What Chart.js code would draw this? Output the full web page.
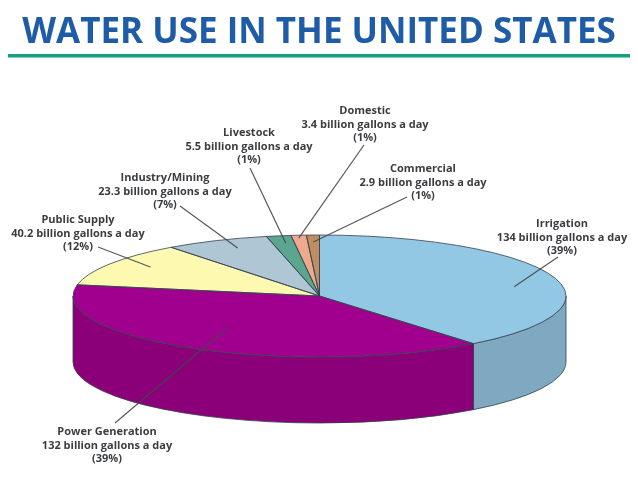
<!DOCTYPE html>
<html>
<head>
<meta charset="utf-8">
<title>Water use in the United States</title>
<script src="https://cdn.jsdelivr.net/npm/chart.js@4"></script>
<style>
    html, body { margin: 0; padding: 0; background: #fff; }
    #wrap { width: 638px; height: 478px; }
</style>
</head>
<body>
<div id="wrap"><canvas id="waterChart"></canvas></div>
<script>
// --- Data ---
const categories = ['Irrigation', 'Power Generation', 'Public Supply', 'Industry/Mining', 'Livestock', 'Domestic', 'Commercial'];
const billionGallons = [134, 132, 40.2, 23.3, 5.5, 3.4, 2.9];
const amountLabels = ['134', '132', '40.2', '23.3', '5.5', '3.4', '2.9'];
const percentLabels = ['39%', '39%', '12%', '7%', '1%', '1%', '1%'];

// --- Styling ---
const topColors = ['#92C8E4', '#A1008F', '#FDF9B1', '#AFC6D5', '#5CA68F', '#EEA98E', '#C08D62'];
const sideColors = ['#7FA9C1', '#8B0079', '#D8D495', '#95A9B6', '#4E8D7A', '#CA9079', '#A37853'];
const edgeColor = '#35434f';
const textColor = '#3b3d40';

// Flattened pie geometry
const centerX = 319.5;
const centerY = 296;
const radiusX = 246.5;
const radiusY = 61;
const depth = 66;

// Label text centre (x, first line y), leader start, and where the leader lands on its slice
// tip: [fraction along the slice's angle, fraction of the radius]
const labelLayout = [
    { x: 562, y: 224, from: [558, 257], tip: [0.56, 0.804] },
    { x: 107, y: 432, from: [115, 423], tip: [0.533, 0.644] },
    { x: 78, y: 220, from: [98, 247], tip: [0.57, 0.835] },
    { x: 165, y: 178, from: [180, 206], tip: [0.577, 0.855] },
    { x: 249, y: 133, from: [250, 168], tip: [0.6, 0.88] },
    { x: 365, y: 111, from: [364, 145], tip: [0.44, 0.954] },
    { x: 423, y: 169, from: [407, 197], tip: [0.47, 0.885] },
];

const flatPie = {
    id: 'flatPie',
    beforeDatasetsDraw(chart) {
        const ctx = chart.ctx;
        const arcs = chart.getDatasetMeta(0).data;

        // Side wall, only the front half of the rim shows
        arcs.forEach((arc, i) => {
            const a = Math.max(arc.startAngle, 0);
            const b = Math.min(arc.endAngle, Math.PI);
            if (b <= a) return;
            ctx.beginPath();
            ctx.ellipse(centerX, centerY, radiusX, radiusY, 0, a, b);
            ctx.ellipse(centerX, centerY + depth, radiusX, radiusY, 0, b, a, true);
            ctx.closePath();
            ctx.fillStyle = sideColors[i];
            ctx.fill();
            ctx.lineWidth = 0.8;
            ctx.strokeStyle = edgeColor;
            ctx.stroke();
        });

        // Squash the library's own pie into an ellipse
        const ref = arcs[0];
        ctx.save();
        ctx.translate(centerX, centerY);
        ctx.scale(radiusX / ref.outerRadius, radiusY / ref.outerRadius);
        ctx.translate(-ref.x, -ref.y);
    },
    afterDatasetsDraw(chart) {
        const ctx = chart.ctx;
        const arcs = chart.getDatasetMeta(0).data;
        ctx.restore();

        // Slice outlines
        arcs.forEach((arc) => {
            ctx.beginPath();
            ctx.moveTo(centerX, centerY);
            ctx.ellipse(centerX, centerY, radiusX, radiusY, 0, arc.startAngle, arc.endAngle);
            ctx.closePath();
            ctx.lineWidth = 0.8;
            ctx.strokeStyle = edgeColor;
            ctx.stroke();
        });

        // Leaders and labels
        labelLayout.forEach((label, i) => {
            const arc = arcs[i];
            const angle = arc.startAngle + label.tip[0] * (arc.endAngle - arc.startAngle);
            ctx.beginPath();
            ctx.moveTo(label.from[0], label.from[1]);
            ctx.lineTo(centerX + Math.cos(angle) * radiusX * label.tip[1], centerY + Math.sin(angle) * radiusY * label.tip[1]);
            ctx.lineWidth = 1.2;
            ctx.strokeStyle = 'rgba(70, 70, 75, 0.9)';
            ctx.stroke();

            ctx.font = 'bold 11px "Open Sans", sans-serif';
            ctx.fillStyle = textColor;
            ctx.textAlign = 'center';
            ctx.textBaseline = 'middle';
            ctx.fillText(categories[i], label.x, label.y);
            ctx.fillText(amountLabels[i] + ' billion gallons a day', label.x, label.y + 13.5);
            ctx.fillText('(' + percentLabels[i] + ')', label.x, label.y + 27);
        });

        // Green rule under the title
        ctx.fillStyle = '#12A37E';
        ctx.fillRect(8, 54, 622, 3.5);
    }
};

new Chart(document.getElementById('waterChart'), {
    type: 'pie',
    data: {
        labels: categories,
        datasets: [{
            data: billionGallons,
            backgroundColor: topColors,
            borderWidth: 0,
            clip: false,
        }]
    },
    options: {
        responsive: true,
        maintainAspectRatio: false,
        animation: false,
        radius: 240,
        plugins: {
            legend: { display: false },
            tooltip: { enabled: false },
            title: {
                display: true,
                text: 'WATER USE IN THE UNITED STATES',
                color: '#1F5CA8',
                font: { family: '"Open Sans", sans-serif', size: 35, weight: 'bold' },
                padding: { top: 12, bottom: 0 },
            }
        }
    },
    plugins: [flatPie]
});
</script>
</body>
</html>
